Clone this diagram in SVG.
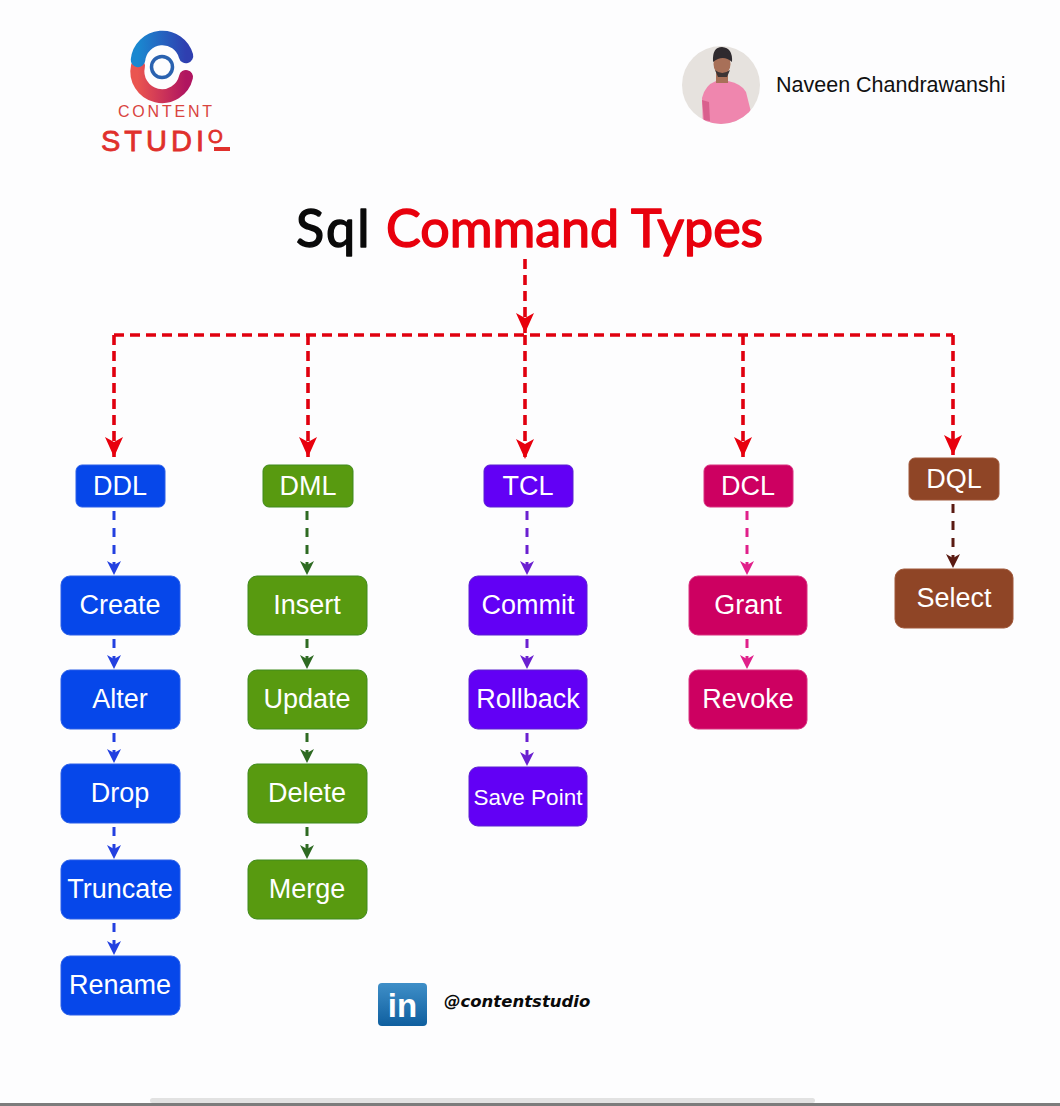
<svg xmlns="http://www.w3.org/2000/svg" width="1060" height="1106" viewBox="0 0 1060 1106">
<style>
.n{stroke-width:1}
.n text,.lab{font-family:"Liberation Sans",Arial,sans-serif;fill:#fff;text-anchor:middle}
.hd{font-size:27px}.it{font-size:27px}
.c{fill:none;stroke-width:3.6;stroke-dasharray:10 6}
.s{fill:none;stroke-width:3;stroke-dasharray:9 8}
.blue{fill:#0647ea;stroke:#2a5fe8}.green{fill:#589a10;stroke:#3f8a1c}.purple{fill:#6200f5;stroke:#5a20d0}.pink{fill:#cd0061;stroke:#d8307f}.brown{fill:#8f4526;stroke:#a0583a}
</style>
<defs>
<marker id="mr" markerUnits="userSpaceOnUse" markerWidth="20" markerHeight="18" refX="20" refY="9" orient="auto" viewBox="0 0 20 18"><path d="M0 0 20 9 0 18 5 9Z" fill="#e8000d"/></marker>
<marker id="mb" markerUnits="userSpaceOnUse" markerWidth="14" markerHeight="14" refX="14" refY="7" orient="auto" viewBox="0 0 14 14"><path d="M0 0 14 7 0 14 4 7Z" fill="#2340e0"/></marker>
<marker id="mg" markerUnits="userSpaceOnUse" markerWidth="14" markerHeight="14" refX="14" refY="7" orient="auto" viewBox="0 0 14 14"><path d="M0 0 14 7 0 14 4 7Z" fill="#2e6a22"/></marker>
<marker id="mp" markerUnits="userSpaceOnUse" markerWidth="14" markerHeight="14" refX="14" refY="7" orient="auto" viewBox="0 0 14 14"><path d="M0 0 14 7 0 14 4 7Z" fill="#6a20d0"/></marker>
<marker id="mk" markerUnits="userSpaceOnUse" markerWidth="14" markerHeight="14" refX="14" refY="7" orient="auto" viewBox="0 0 14 14"><path d="M0 0 14 7 0 14 4 7Z" fill="#e0208a"/></marker>
<marker id="mw" markerUnits="userSpaceOnUse" markerWidth="14" markerHeight="14" refX="14" refY="7" orient="auto" viewBox="0 0 14 14"><path d="M0 0 14 7 0 14 4 7Z" fill="#5a1a12"/></marker>
<linearGradient id="lg1" x1="0" y1="0.5" x2="1" y2="0.5"><stop offset="0" stop-color="#1a88d0"/><stop offset="1" stop-color="#2f3fb0"/></linearGradient>
<linearGradient id="lg2" x1="0" y1="0" x2="1" y2="0"><stop offset="0" stop-color="#ea5550"/><stop offset="1" stop-color="#b01560"/></linearGradient>
<linearGradient id="li" x1="0" y1="0" x2="0" y2="1"><stop offset="0" stop-color="#3f8fc8"/><stop offset="1" stop-color="#0f5f9f"/></linearGradient>
<clipPath id="av"><circle cx="721" cy="85" r="39"/></clipPath>
</defs>
<rect width="1060" height="1106" fill="#fdfdfe"/>

<g id="logo">
<path d="M186 77A24.500 24.500 0 1 1 138 66" fill="none" stroke="url(#lg2)" stroke-width="14" stroke-linecap="round"/>
<path d="M186 56A24.500 24.500 0 0 0 138 60" fill="none" stroke="url(#lg1)" stroke-width="14.500" stroke-linecap="round"/>
<circle cx="162" cy="67" r="10.500" fill="none" stroke="#2a62b0" stroke-width="3.500"/>
<text x="118" y="117" font-family="'Liberation Sans',sans-serif" font-size="16" letter-spacing="2.8" fill="#d9443f">CONTENT</text>
<text x="101" y="151" font-family="'Liberation Sans',sans-serif" font-size="29" letter-spacing="4" fill="#e0302c" stroke="#e0302c" stroke-width="0.8">STUDI<tspan font-size="19" dy="-8">O</tspan></text>
<rect x="214" y="147" width="16" height="4" fill="#e0302c"/>
</g>

<g id="author">
<circle cx="721" cy="85" r="39" fill="#e6e2de"/>
<g clip-path="url(#av)">
<path d="M703 128 702 98Q705 85 716 81H728Q742 84 746 92L751 112 745 128Z" fill="#ef86ae"/>
<path d="M702 100 704 120 710 121 709 102Z" fill="#d9608e"/>
<rect x="716" y="72" width="12" height="11" fill="#a87058"/>
</g>
<ellipse cx="722" cy="64" rx="8.500" ry="11" fill="#a87058"/>
<path d="M713 62Q712 47 722 47 733 48 732 62 723 54 713 62Z" fill="#2f2a2e"/>
<path d="M715 70Q722 76 730 70L727 77H718Z" fill="#3c3434"/>
<text x="776" y="92" font-family="'Liberation Sans',sans-serif" font-size="21.500" fill="#111">Naveen Chandrawanshi</text>
</g>

<g id="title" font-family="Lato,'DejaVu Sans',sans-serif" stroke-linejoin="round">
<text x="296" y="247" font-size="52" letter-spacing="2" fill="#0a0a0a" stroke="#0a0a0a" stroke-width="1.500">Sql</text>
<text x="386" y="247" font-size="52" fill="#e8000d" stroke="#e8000d" stroke-width="1.500">Command Types</text>
</g>

<g id="connectors">
<path class="c" d="M525 259V333" stroke="#e0000f" marker-end="url(#mr)"/>
<path class="c" d="M114 335H953" stroke="#e0000f"/>
<path class="c" d="M114 335V457" stroke="#e0000f" marker-end="url(#mr)"/>
<path class="c" d="M308 335V457" stroke="#e0000f" marker-end="url(#mr)"/>
<path class="c" d="M525 335V459" stroke="#e0000f" marker-end="url(#mr)"/>
<path class="c" d="M743 335V457" stroke="#e0000f" marker-end="url(#mr)"/>
<path class="c" d="M953 335V455" stroke="#e0000f" marker-end="url(#mr)"/>
<g stroke="#2340e0"><path class="s" d="M114 511V575" marker-end="url(#mb)"/><path class="s" d="M114 639V669" marker-end="url(#mb)"/><path class="s" d="M114 733V763" marker-end="url(#mb)"/><path class="s" d="M114 827V859" marker-end="url(#mb)"/><path class="s" d="M114 923V955" marker-end="url(#mb)"/></g>
<g stroke="#2e6a22"><path class="s" d="M307 511V575" marker-end="url(#mg)"/><path class="s" d="M307 639V669" marker-end="url(#mg)"/><path class="s" d="M307 733V763" marker-end="url(#mg)"/><path class="s" d="M307 827V859" marker-end="url(#mg)"/></g>
<g stroke="#6a20d0"><path class="s" d="M527 511V575" marker-end="url(#mp)"/><path class="s" d="M527 639V669" marker-end="url(#mp)"/><path class="s" d="M527 733V766" marker-end="url(#mp)"/></g>
<g stroke="#e0208a"><path class="s" d="M747 511V575" marker-end="url(#mk)"/><path class="s" d="M747 639V669" marker-end="url(#mk)"/></g>
<path class="s" stroke="#5a1a12" d="M953 504V568" marker-end="url(#mw)"/>
</g>

<g id="ddl" class="n"><rect class="blue" x="76" y="465" width="89" height="42" rx="6"/><text class="hd" x="120" y="495">DDL</text></g>
<g id="create" class="n"><rect class="blue" x="61" y="576" width="119" height="59" rx="9"/><text class="it" x="120" y="614">Create</text></g>
<g id="alter" class="n"><rect class="blue" x="61" y="670" width="119" height="59" rx="9"/><text class="it" x="120" y="708">Alter</text></g>
<g id="drop" class="n"><rect class="blue" x="61" y="764" width="119" height="59" rx="9"/><text class="it" x="120" y="802">Drop</text></g>
<g id="truncate" class="n"><rect class="blue" x="61" y="860" width="119" height="59" rx="9"/><text class="it" x="120" y="898">Truncate</text></g>
<g id="rename" class="n"><rect class="blue" x="61" y="956" width="119" height="59" rx="9"/><text class="it" x="120" y="994">Rename</text></g>

<g id="dml" class="n"><rect class="green" x="263" y="465" width="90" height="42" rx="6"/><text class="hd" x="308" y="495">DML</text></g>
<g id="insert" class="n"><rect class="green" x="248" y="576" width="119" height="59" rx="9"/><text class="it" x="307" y="614">Insert</text></g>
<g id="update" class="n"><rect class="green" x="248" y="670" width="119" height="59" rx="9"/><text class="it" x="307" y="708">Update</text></g>
<g id="delete" class="n"><rect class="green" x="248" y="764" width="119" height="59" rx="9"/><text class="it" x="307" y="802">Delete</text></g>
<g id="merge" class="n"><rect class="green" x="248" y="860" width="119" height="59" rx="9"/><text class="it" x="307" y="898">Merge</text></g>

<g id="tcl" class="n"><rect class="purple" x="484" y="465" width="89" height="42" rx="6"/><text class="hd" x="528" y="495">TCL</text></g>
<g id="commit" class="n"><rect class="purple" x="469" y="576" width="118" height="59" rx="9"/><text class="it" x="528" y="614">Commit</text></g>
<g id="rollback" class="n"><rect class="purple" x="469" y="670" width="118" height="59" rx="9"/><text class="it" x="528" y="708">Rollback</text></g>
<g id="savepoint" class="n"><rect class="purple" x="469" y="767" width="118" height="59" rx="9"/><text x="528" y="805" font-size="22.500">Save Point</text></g>

<g id="dcl" class="n"><rect class="pink" x="704" y="465" width="89" height="42" rx="6"/><text class="hd" x="748" y="495">DCL</text></g>
<g id="grant" class="n"><rect class="pink" x="689" y="576" width="118" height="59" rx="9"/><text class="it" x="748" y="614">Grant</text></g>
<g id="revoke" class="n"><rect class="pink" x="689" y="670" width="118" height="59" rx="9"/><text class="it" x="748" y="708">Revoke</text></g>

<g id="dql" class="n"><rect class="brown" x="909" y="458" width="90" height="42" rx="6"/><text class="hd" x="954" y="488">DQL</text></g>
<g id="select" class="n"><rect class="brown" x="895" y="569" width="118" height="59" rx="9"/><text class="it" x="954" y="607">Select</text></g>

<g id="linkedin">
<rect x="378" y="983" width="49" height="43" rx="4" fill="url(#li)"/>
<text x="402.500" y="1017" font-family="'Liberation Sans',sans-serif" font-weight="700" font-size="33" fill="#fff" text-anchor="middle">in</text>
<text x="444" y="1007" font-family="'DejaVu Sans',sans-serif" font-size="16.500" font-weight="700" font-style="italic" fill="#0a0a0a">@contentstudio</text>
</g>

<g id="bottom">
<rect x="0" y="1103" width="1060" height="3" fill="#7c7c7c"/>
<rect x="150" y="1098" width="665" height="5" rx="2.500" fill="#e2e2e2"/>
</g>
</svg>
